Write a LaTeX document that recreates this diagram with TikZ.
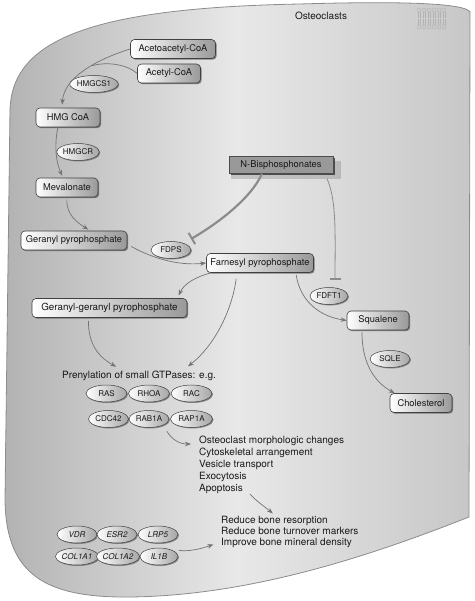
\documentclass[tikz,border=0pt]{standalone}
\usepackage{fontspec}
\setmainfont{TeX Gyre Heros}
\usetikzlibrary{shapes.geometric, arrows.meta, shadows}

\begin{document}
\begin{tikzpicture}[x=1pt, y=-1pt,
    every node/.style={text=black!90},
    metab/.style={draw=black!75, line width=0.6pt, rounded corners=4pt,
        left color=white, right color=black!40, minimum width=62pt,
        minimum height=19pt, inner xsep=4pt, inner ysep=0pt,
        font=\fontsize{9.3}{11}\selectfont,
        drop shadow={shadow xshift=1.2pt, shadow yshift=-1.2pt, fill=black!60, opacity=.8}},
    enzyme/.style={ellipse, draw=black!75, line width=0.5pt,
        left color=white, right color=black!35, minimum width=40pt,
        minimum height=17pt, inner sep=0pt, font=\fontsize{8}{9}\selectfont,
        drop shadow={shadow xshift=1pt, shadow yshift=-1pt, fill=black!60, opacity=.7}},
    gene/.style={enzyme, font=\fontsize{8}{9}\selectfont\itshape},
    drug/.style={rectangle, draw=black!70, fill=black!40, line width=0.6pt,
        minimum width=104pt, minimum height=17pt, inner sep=0pt,
        font=\fontsize{9.3}{11}\selectfont,
        drop shadow={shadow xshift=5pt, shadow yshift=-5pt, fill=black, opacity=.15, shadow scale=1.06},
        drop shadow={shadow xshift=2pt, shadow yshift=-2pt, fill=black!70, opacity=1}},
    effect/.style={align=left, inner sep=0pt, font=\fontsize{10}{12}\selectfont},
    flow/.style={draw=black!55, line width=0.7pt, -{Stealth[length=6pt, width=4.5pt]}},
    block/.style={draw=black!45, line width=0.8pt, -{Bar[width=11pt, line width=2pt]}},
    lipid/.style={draw=black!30, line width=0.4pt}]

    \useasboundingbox (0,0) rectangle (474,601);

    % Cell outline
    \path[draw=black!45, line width=0.8pt, left color=black!30, right color=black!22, middle color=black!9]
        (10,110) .. controls (12,40) and (90,8) .. (300,4)
        .. controls (400,1) and (465,3) .. (470,12)
        -- (469,517)
        .. controls (380,552) and (250,598) .. (120,597)
        .. controls (40,596) and (6,570) .. (5,500) -- cycle;

    % Membrane symbol
    \foreach \x in {419,424,...,444} {
        \draw[lipid] (\x,10) circle (2);
        \draw[lipid] (\x-0.8,12) -- (\x-0.8,18) (\x+0.8,12) -- (\x+0.8,18);
        \draw[lipid] (\x,27) circle (2);
        \draw[lipid] (\x-0.8,25) -- (\x-0.8,19.5) (\x+0.8,25) -- (\x+0.8,19.5);
    }
    \node[font=\fontsize{10}{12}\selectfont] (cell) at (321,16) {Osteoclasts};

    % Mevalonate pathway
    \node[metab, minimum width=85pt] (acac) at (173,49) {Acetoacetyl-CoA};
    \node[metab, minimum width=63pt] (acet) at (169,73.5) {Acetyl-CoA};
    \node[enzyme] (hmgcs) at (94,84) {HMGCS1};
    \node[metab, minimum width=64pt] (hmgcoa) at (68,117.5) {HMG CoA};
    \node[enzyme] (hmgcr) at (78,152) {HMGCR};
    \node[metab] (meval) at (67,187.5) {Mevalonate};
    \node[metab, minimum width=106pt] (gpp) at (74,240.5) {Geranyl pyrophosphate};
    \node[enzyme] (fdps) at (171,250) {FDPS};
    \node[metab, minimum width=106pt] (fpp) at (260,263) {Farnesyl pyrophosphate};
    \node[metab, minimum width=155pt, font=\fontsize{9.8}{11}\selectfont] (ggpp) at (109.5,308) {Geranyl-geranyl pyrophosphate};

    % Drug and sterol branch
    \node[drug] (nbp) at (281,165) {N-Bisphosphonates};
    \node[enzyme, minimum width=38pt] (fdft) at (329,296) {FDFT1};
    \node[metab] (squal) at (378,320.5) {Squalene};
    \node[enzyme] (sqle) at (390,359) {SQLE};
    \node[metab] (chol) at (421,403) {Cholesterol};

    % Small GTPases
    \node[font=\fontsize{10}{12}\selectfont] (prenyl) at (139,376) {Prenylation of small GTPases: e.g.};
    \node[enzyme, minimum width=41pt] (ras) at (106.5,393.5) {RAS};
    \node[enzyme, minimum width=41pt] (rhoa) at (149,393.5) {RHOA};
    \node[enzyme, minimum width=41pt] (rac) at (191.5,393.5) {RAC};
    \node[enzyme] (cdc) at (108.5,419) {CDC42};
    \node[enzyme] (rab) at (149,419) {RAB1A};
    \node[enzyme, minimum width=42pt] (rap) at (191.5,419) {RAP1A};

    % Genes
    \node[gene] (vdr) at (77,534.5) {VDR};
    \node[gene] (esr) at (117,534.5) {ESR2};
    \node[gene] (lrp) at (158,534.5) {LRP5};
    \node[gene] (cola) at (77,556.5) {COL1A1};
    \node[gene] (colb) at (118,556.5) {COL1A2};
    \node[gene, minimum width=38pt] (il) at (159,556.5) {IL1B};

    % Effects
    \node[effect, anchor=north west] (morph) at (199,436) {Osteoclast morphologic changes\\Cytoskeletal arrangement\\Vesicle transport\\Exocytosis\\Apoptosis};
    \node[effect, anchor=north west, font=\fontsize{10}{11}\selectfont] (reduce) at (221,516) {Reduce bone resorption\\Reduce bone turnover markers\\Improve bone mineral density};

    % Connectors
    \draw[flow, shorten >=3pt] (acac.west) .. controls (95,60) and (64,78) .. coordinate[pos=0.4] (join) ([xshift=-6pt]hmgcoa.north);
    \draw[draw=black!55, line width=0.7pt] (acet.west) .. controls (128,65) and (108,61) .. (join);
    \draw[flow, shorten >=2pt] ([xshift=-10pt]hmgcoa.south) .. controls (54,145) and (56,162) .. ([xshift=-4pt]meval.north);
    \draw[flow, shorten <=2pt, shorten >=2pt] (meval.south) .. controls (66,215) and (78,223) .. ([xshift=16pt]gpp.north);
    \draw[flow] ([xshift=4pt, yshift=-6pt]gpp.east) .. controls (152,258) and (178,266) .. (fpp.west);
    \coordinate (fdpsbar) at (191,239);
    \coordinate (fdftbar) at (335,280);
    \draw[block, line width=2.2pt, -{Bar[width=13pt, line width=2pt]}] ([xshift=-19pt]nbp.south) .. controls (250,200) and (215,225) .. (fdpsbar);
    \draw[block] ([xshift=46pt, yshift=-5pt]nbp.south) .. controls (337,200) and (335,240) .. (fdftbar);
    \draw[flow, shorten >=3pt] ([xshift=5pt]fpp.south west) .. controls (195,277) and (184,284) .. ([xshift=-10pt]ggpp.north east);
    \draw[flow, shorten <=6pt, shorten >=2pt] ([xshift=-23pt]fpp.south) .. controls (232,310) and (215,345) .. ([xshift=-33pt]prenyl.north east);
    \draw[flow, shorten <=3pt, shorten >=2pt] ([xshift=-21pt]ggpp.south) .. controls (88,345) and (100,358) .. ([xshift=-21pt]prenyl.north);
    \draw[flow, shorten <=2pt] ([xshift=-18pt]fpp.south east) .. controls (300,300) and (318,316) .. (squal.west);
    \draw[flow, shorten <=2pt] ([xshift=-16pt]squal.south) .. controls (362,370) and (380,385) .. ([xshift=5pt]chol.north west);
    \draw[flow, shorten <=7pt, shorten >=8pt] (rab.south east) .. controls (172,440) and (180,444) .. ([yshift=-8pt]morph.north west);
    \draw[flow, shorten >=4pt] ([xshift=51pt]morph.south west) .. controls (255,500) and (265,507) .. ([xshift=55pt]reduce.north west);
    \draw[flow, shorten >=8pt] ([xshift=6pt]il.north east) .. controls (190,552) and (203,548) .. ([yshift=-26pt]reduce.north west);
\end{tikzpicture}
\end{document}
